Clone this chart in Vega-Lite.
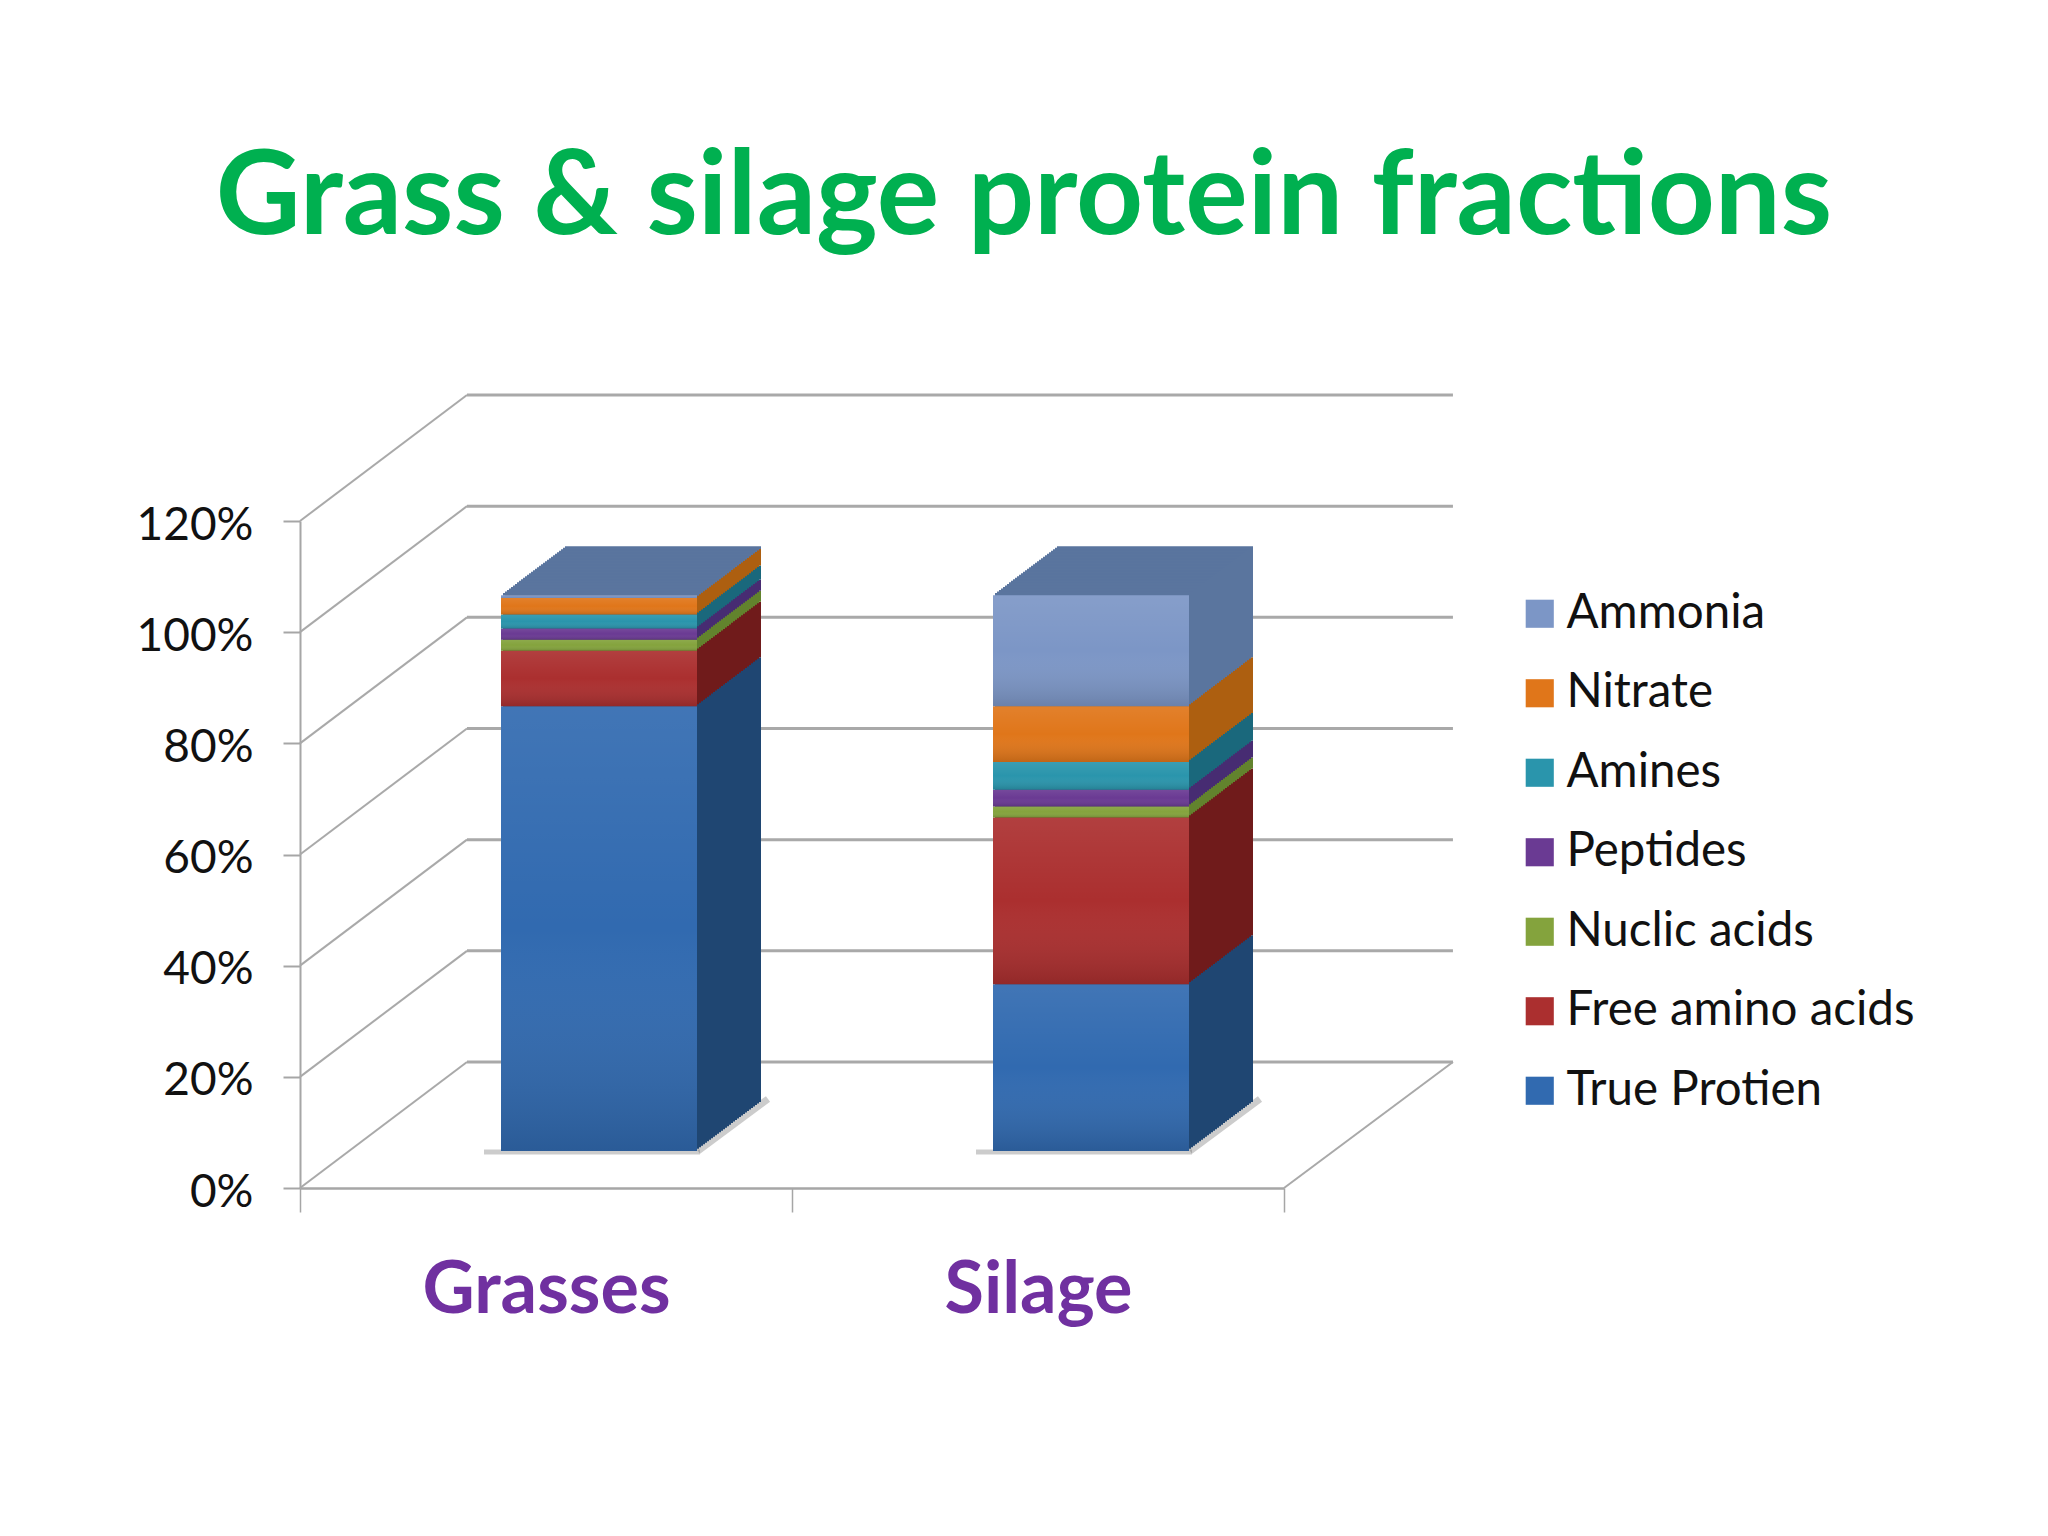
{
  "$schema": "https://vega.github.io/schema/vega-lite/v6.json",
  "description": "Grass and silage protein fractions, stacked bars with an extruded side",
  "width": 984,
  "height": 667,
  "autosize": "none",
  "padding": {"left": 300, "top": 521, "right": 764, "bottom": 348},
  "background": "white",
  "config": {"view": {"stroke": null}, "font": "Lato"},
  "title": {"text": "Grass & silage protein fractions", "font": "Lato", "fontSize": 117, "fontWeight": "bold", "color": "#00b050", "anchor": "middle", "dx": 232, "offset": 135},
  "datasets": {
    "fractions": [
      {"crop": "Grasses", "fraction": "True Protien", "rank": 1, "value": 0.80},
      {"crop": "Grasses", "fraction": "Free amino acids", "rank": 2, "value": 0.10},
      {"crop": "Grasses", "fraction": "Nuclic acids", "rank": 3, "value": 0.02},
      {"crop": "Grasses", "fraction": "Peptides", "rank": 4, "value": 0.02},
      {"crop": "Grasses", "fraction": "Amines", "rank": 5, "value": 0.025},
      {"crop": "Grasses", "fraction": "Nitrate", "rank": 6, "value": 0.03},
      {"crop": "Grasses", "fraction": "Ammonia", "rank": 7, "value": 0.005},
      {"crop": "Silage", "fraction": "True Protien", "rank": 1, "value": 0.30},
      {"crop": "Silage", "fraction": "Free amino acids", "rank": 2, "value": 0.30},
      {"crop": "Silage", "fraction": "Nuclic acids", "rank": 3, "value": 0.02},
      {"crop": "Silage", "fraction": "Peptides", "rank": 4, "value": 0.03},
      {"crop": "Silage", "fraction": "Amines", "rank": 5, "value": 0.05},
      {"crop": "Silage", "fraction": "Nitrate", "rank": 6, "value": 0.10},
      {"crop": "Silage", "fraction": "Ammonia", "rank": 7, "value": 0.20}
    ],
    "ticks": [{"pct": 0}, {"pct": 0.2}, {"pct": 0.4}, {"pct": 0.6}, {"pct": 0.8}, {"pct": 1}, {"pct": 1.2}]
  },
  "layer": [
    {
      "data": {"name": "ticks"},
      "encoding": {
        "y": {"field": "pct", "type": "quantitative", "scale": {"domain": [0, 1.2]}, "axis": {"format": ".0%", "values": [0, 0.2, 0.4, 0.6, 0.8, 1, 1.2], "title": null, "grid": false, "domainColor": "#a6a6a6", "domainWidth": 2, "tickColor": "#a6a6a6", "tickWidth": 2, "tickSize": 17, "labelFont": "Lato", "labelFontSize": 46, "labelColor": "#111111", "labelPadding": 30, "labelOffset": 4}},
        "x": {"datum": 0, "type": "quantitative", "scale": {"domain": [0, 1]}, "axis": null}
      },
      "layer": [
        {"mark": {"type": "rule", "color": "#a9a9a9", "strokeWidth": 3, "yOffset": -126}, "encoding": {"x": {"datum": 0.1697, "type": "quantitative", "scale": {"domain": [0, 1]}, "axis": null}, "x2": {"datum": 1.1717}}},
        {"mark": {"type": "rule", "color": "#a9a9a9", "strokeWidth": 2, "y2Offset": -126}, "encoding": {"x2": {"datum": 0.1697}, "y2": {"field": "pct"}}},
        {"transform": [{"filter": "datum.pct === 0"}], "mark": {"type": "rule", "color": "#a9a9a9", "strokeWidth": 2, "y2Offset": -126}, "encoding": {"x": {"datum": 1, "type": "quantitative", "scale": {"domain": [0, 1]}, "axis": null}, "x2": {"datum": 1.1717}, "y2": {"field": "pct"}}}
      ]
    },
    {
      "data": {"name": "fractions"},
      "encoding": {
        "x": {"field": "crop", "type": "nominal", "axis": null, "scale": {"paddingInner": 0, "paddingOuter": 0}},
        "y": {"field": "value", "type": "quantitative", "stack": "zero", "scale": {"domain": [0, 1.2]}},
        "order": {"field": "rank"},
        "color": {
          "field": "fraction", "type": "nominal", "legend": null,
          "scale": {
            "domain": ["Ammonia", "Nitrate", "Amines", "Peptides", "Nuclic acids", "Free amino acids", "True Protien"],
            "range": ["#5a759e", "#ad5f10", "#1a687c", "#472c72", "#62832d", "#701b1b", "#1f4672"]
          }
        }
      },
      "layer": [
        {
          "transform": [{"filter": "datum.rank === 1"}],
          "mark": {"type": "rule", "strokeWidth": 5, "opacity": 0.3, "xOffset": -62, "x2Offset": 154, "yOffset": -36, "y2Offset": -36},
          "encoding": {"color": {"value": "#555555"}, "order": null, "y": {"datum": 0, "type": "quantitative", "scale": {"domain": [0, 1.2]}}, "y2": {"datum": 0}, "x2": {"field": "crop"}}
        },
        {
          "transform": [{"filter": "datum.rank === 1"}],
          "mark": {"type": "rule", "strokeWidth": 7, "opacity": 0.3, "xOffset": 152, "x2Offset": 222, "yOffset": -37, "y2Offset": -89},
          "encoding": {"color": {"value": "#555555"}, "order": null, "y": {"datum": 0, "type": "quantitative", "scale": {"domain": [0, 1.2]}}, "y2": {"datum": 0}, "x2": {"field": "crop"}}
        },
        {"mark": {"type": "bar", "width": 196, "xOffset": 117, "yOffset": -86}},
        {"mark": {"type": "bar", "width": 196, "xOffset": 115, "yOffset": -84.5}},
        {"mark": {"type": "bar", "width": 196, "xOffset": 113, "yOffset": -83}},
        {"mark": {"type": "bar", "width": 196, "xOffset": 111, "yOffset": -81.5}},
        {"mark": {"type": "bar", "width": 196, "xOffset": 109, "yOffset": -80}},
        {"mark": {"type": "bar", "width": 196, "xOffset": 107, "yOffset": -78.4}},
        {"mark": {"type": "bar", "width": 196, "xOffset": 105, "yOffset": -76.9}},
        {"mark": {"type": "bar", "width": 196, "xOffset": 103, "yOffset": -75.4}},
        {"mark": {"type": "bar", "width": 196, "xOffset": 101, "yOffset": -73.9}},
        {"mark": {"type": "bar", "width": 196, "xOffset": 99, "yOffset": -72.4}},
        {"mark": {"type": "bar", "width": 196, "xOffset": 97, "yOffset": -70.9}},
        {"mark": {"type": "bar", "width": 196, "xOffset": 95, "yOffset": -69.4}},
        {"mark": {"type": "bar", "width": 196, "xOffset": 93, "yOffset": -67.9}},
        {"mark": {"type": "bar", "width": 196, "xOffset": 91, "yOffset": -66.4}},
        {"mark": {"type": "bar", "width": 196, "xOffset": 89, "yOffset": -64.9}},
        {"mark": {"type": "bar", "width": 196, "xOffset": 87, "yOffset": -63.3}},
        {"mark": {"type": "bar", "width": 196, "xOffset": 85, "yOffset": -61.8}},
        {"mark": {"type": "bar", "width": 196, "xOffset": 83, "yOffset": -60.3}},
        {"mark": {"type": "bar", "width": 196, "xOffset": 81, "yOffset": -58.8}},
        {"mark": {"type": "bar", "width": 196, "xOffset": 79, "yOffset": -57.3}},
        {"mark": {"type": "bar", "width": 196, "xOffset": 77, "yOffset": -55.8}},
        {"mark": {"type": "bar", "width": 196, "xOffset": 75, "yOffset": -54.3}},
        {"mark": {"type": "bar", "width": 196, "xOffset": 73, "yOffset": -52.8}},
        {"mark": {"type": "bar", "width": 196, "xOffset": 71, "yOffset": -51.3}},
        {"mark": {"type": "bar", "width": 196, "xOffset": 69, "yOffset": -49.8}},
        {"mark": {"type": "bar", "width": 196, "xOffset": 67, "yOffset": -48.2}},
        {"mark": {"type": "bar", "width": 196, "xOffset": 65, "yOffset": -46.7}},
        {"mark": {"type": "bar", "width": 196, "xOffset": 63, "yOffset": -45.2}},
        {"mark": {"type": "bar", "width": 196, "xOffset": 61, "yOffset": -43.7}},
        {"mark": {"type": "bar", "width": 196, "xOffset": 59, "yOffset": -42.2}},
        {"mark": {"type": "bar", "width": 196, "xOffset": 57, "yOffset": -40.7}},
        {"mark": {"type": "bar", "width": 196, "xOffset": 55, "yOffset": -39.2}}
      ]
    },
    {
      "data": {"name": "fractions"},
      "encoding": {
        "x": {"field": "crop", "type": "nominal", "scale": {"paddingInner": 0, "paddingOuter": 0}, "axis": {"title": null, "labelAngle": 0, "tickBand": "extent", "tickSize": 24, "tickWidth": 1.5, "tickColor": "#a6a6a6", "domainColor": "#a6a6a6", "domainWidth": 2.5, "labelFont": "Lato", "labelFontSize": 72, "labelFontWeight": "bold", "labelColor": "#7030a0", "labelPadding": 43, "labelLimit": 500}},
        "y": {"field": "value", "type": "quantitative", "stack": "zero", "scale": {"domain": [0, 1.2]}},
        "order": {"field": "rank"}
      },
      "layer": [
        {
          "mark": {"type": "bar", "width": 196, "xOffset": 53, "yOffset": -37},
          "encoding": {
            "color": {
              "field": "fraction", "type": "nominal",
              "legend": {"orient": "none", "legendX": 1216, "legendY": 69, "title": null, "symbolType": "square", "symbolSize": 790, "symbolStrokeWidth": 0, "labelFont": "Lato", "labelFontSize": 47.5, "labelColor": "#111111", "labelOffset": 3, "rowPadding": 30.5, "labelLimit": 500},
              "scale": {
                "domain": ["Ammonia", "Nitrate", "Amines", "Peptides", "Nuclic acids", "Free amino acids", "True Protien"],
                "range": ["#7c96c6", "#e0761a", "#2a95ac", "#6a3a93", "#84a33d", "#ab2f2f", "#316ab0"]
              }
            }
          }
        },
        {
          "mark": {
            "type": "bar", "width": 196, "xOffset": 53, "yOffset": -37,
            "color": {"gradient": "linear", "x1": 0, "y1": 0, "x2": 0, "y2": 1, "stops": [{"offset": 0, "color": "rgba(255,255,255,0.08)"}, {"offset": 0.5, "color": "rgba(255,255,255,0)"}, {"offset": 1, "color": "rgba(0,0,0,0.14)"}]}
          }
        }
      ]
    }
  ],
  "resolve": {"scale": {"color": "independent", "x": "independent"}}
}
